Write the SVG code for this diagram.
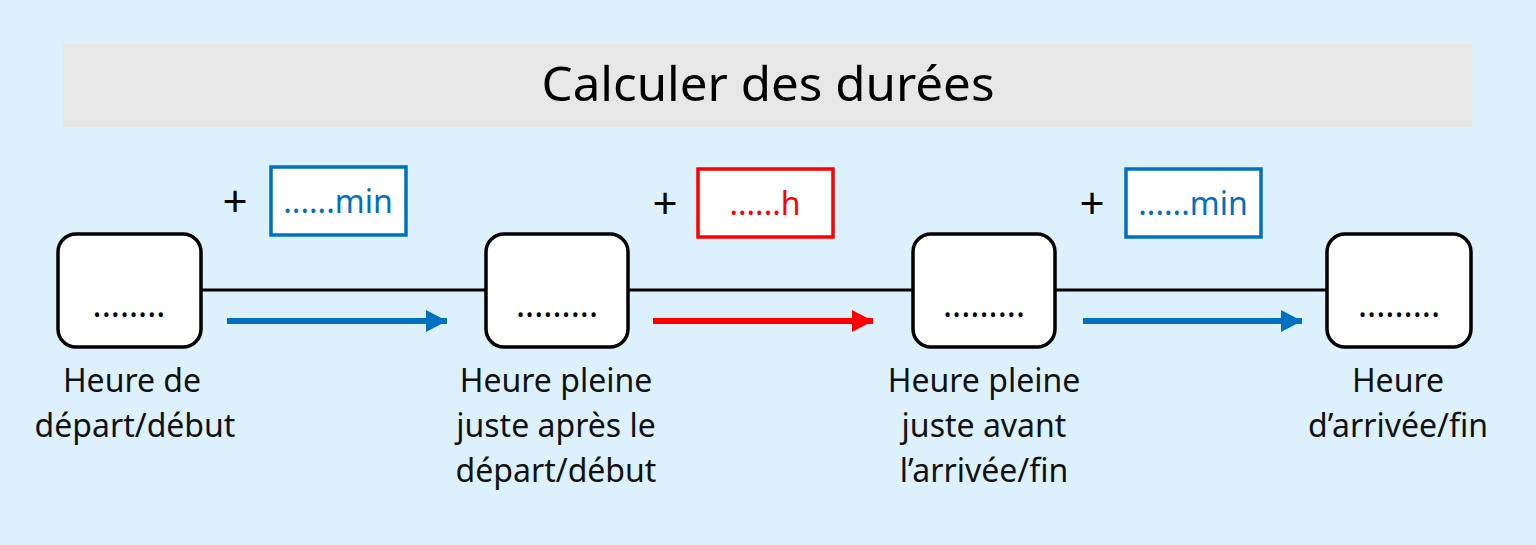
<svg xmlns="http://www.w3.org/2000/svg" width="1536" height="545" viewBox="0 0 1536 545">
<style>
.node{fill:#fff;stroke:#000;stroke-width:3.5}
.lbl{font-family:"Noto Sans","Open Sans",sans-serif;font-size:32px;fill:#111;text-anchor:middle}
.dots{font-family:"Noto Sans",sans-serif;font-size:34px;fill:#000;text-anchor:middle}
.plus{font-family:"Noto Sans",sans-serif;font-size:44px;fill:#000;text-anchor:middle}
.box{fill:#fff;stroke-width:3.5}
.bt{font-family:"Noto Sans",sans-serif;font-size:32px;text-anchor:middle}
.conn{stroke:#000;stroke-width:3;fill:none}
</style>
<defs>
<marker id="ab" markerUnits="userSpaceOnUse" viewBox="0 0 22 22" markerWidth="22" markerHeight="22" refX="21" refY="11" orient="auto"><path d="M0,0 L21,11 L0,22 Z" fill="#0070C0"/></marker>
<marker id="ar" markerUnits="userSpaceOnUse" viewBox="0 0 22 22" markerWidth="22" markerHeight="22" refX="21" refY="11" orient="auto"><path d="M0,0 L21,11 L0,22 Z" fill="#FF0000"/></marker>
</defs>
<rect x="0" y="0" width="1536" height="545" fill="#DDF1FC"/>
<g id="title">
<rect x="63" y="44" width="1409" height="83" fill="#E7E7E7"/>
<text x="768" y="101" font-family="Noto Sans,sans-serif" font-size="48" fill="#000" text-anchor="middle" textLength="453" lengthAdjust="spacingAndGlyphs">Calculer des durées</text>
</g>
<g id="connectors">
<line class="conn" x1="201" y1="290" x2="486" y2="290"/>
<line class="conn" x1="628" y1="290" x2="913" y2="290"/>
<line class="conn" x1="1055" y1="290" x2="1327" y2="290"/>
<line x1="227" y1="321" x2="447" y2="321" stroke="#0070C0" stroke-width="6" marker-end="url(#ab)"/>
<line x1="653" y1="321" x2="873" y2="321" stroke="#FF0000" stroke-width="6" marker-end="url(#ar)"/>
<line x1="1083" y1="321" x2="1302" y2="321" stroke="#0070C0" stroke-width="6" marker-end="url(#ab)"/>
</g>
<g id="step1">
<text class="plus" x="235" y="217">+</text>
<rect class="box" x="271" y="167" width="135" height="68" stroke="#0070C0"/>
<text class="bt" x="338" y="213" fill="#0070C0">......min</text>
</g>
<g id="step2">
<text class="plus" x="665" y="219">+</text>
<rect class="box" x="698" y="169" width="135" height="68" stroke="#FF0000"/>
<text class="bt" x="765" y="215" fill="#FF0000">......h</text>
</g>
<g id="step3">
<text class="plus" x="1092" y="219">+</text>
<rect class="box" x="1126" y="169" width="135" height="68" stroke="#0070C0"/>
<text class="bt" x="1193" y="215" fill="#0070C0">......min</text>
</g>
<g id="node1">
<rect class="node" x="58" y="234" width="143" height="113" rx="18"/>
<text class="dots" x="129" y="317">........</text>
<text class="lbl" x="132" y="392">Heure de</text>
<text class="lbl" x="135" y="437">départ/début</text>
</g>
<g id="node2">
<rect class="node" x="486" y="234" width="142" height="113" rx="18"/>
<text class="dots" x="557" y="317">.........</text>
<text class="lbl" x="556" y="392">Heure pleine</text>
<text class="lbl" x="556" y="437">juste après le</text>
<text class="lbl" x="556" y="482">départ/début</text>
</g>
<g id="node3">
<rect class="node" x="913" y="234" width="142" height="113" rx="18"/>
<text class="dots" x="984" y="317">.........</text>
<text class="lbl" x="984" y="392">Heure pleine</text>
<text class="lbl" x="984" y="437">juste avant</text>
<text class="lbl" x="984" y="482">l’arrivée/fin</text>
</g>
<g id="node4">
<rect class="node" x="1327" y="234" width="144" height="113" rx="18"/>
<text class="dots" x="1399" y="317">.........</text>
<text class="lbl" x="1398" y="392">Heure</text>
<text class="lbl" x="1398" y="437">d’arrivée/fin</text>
</g>
</svg>
